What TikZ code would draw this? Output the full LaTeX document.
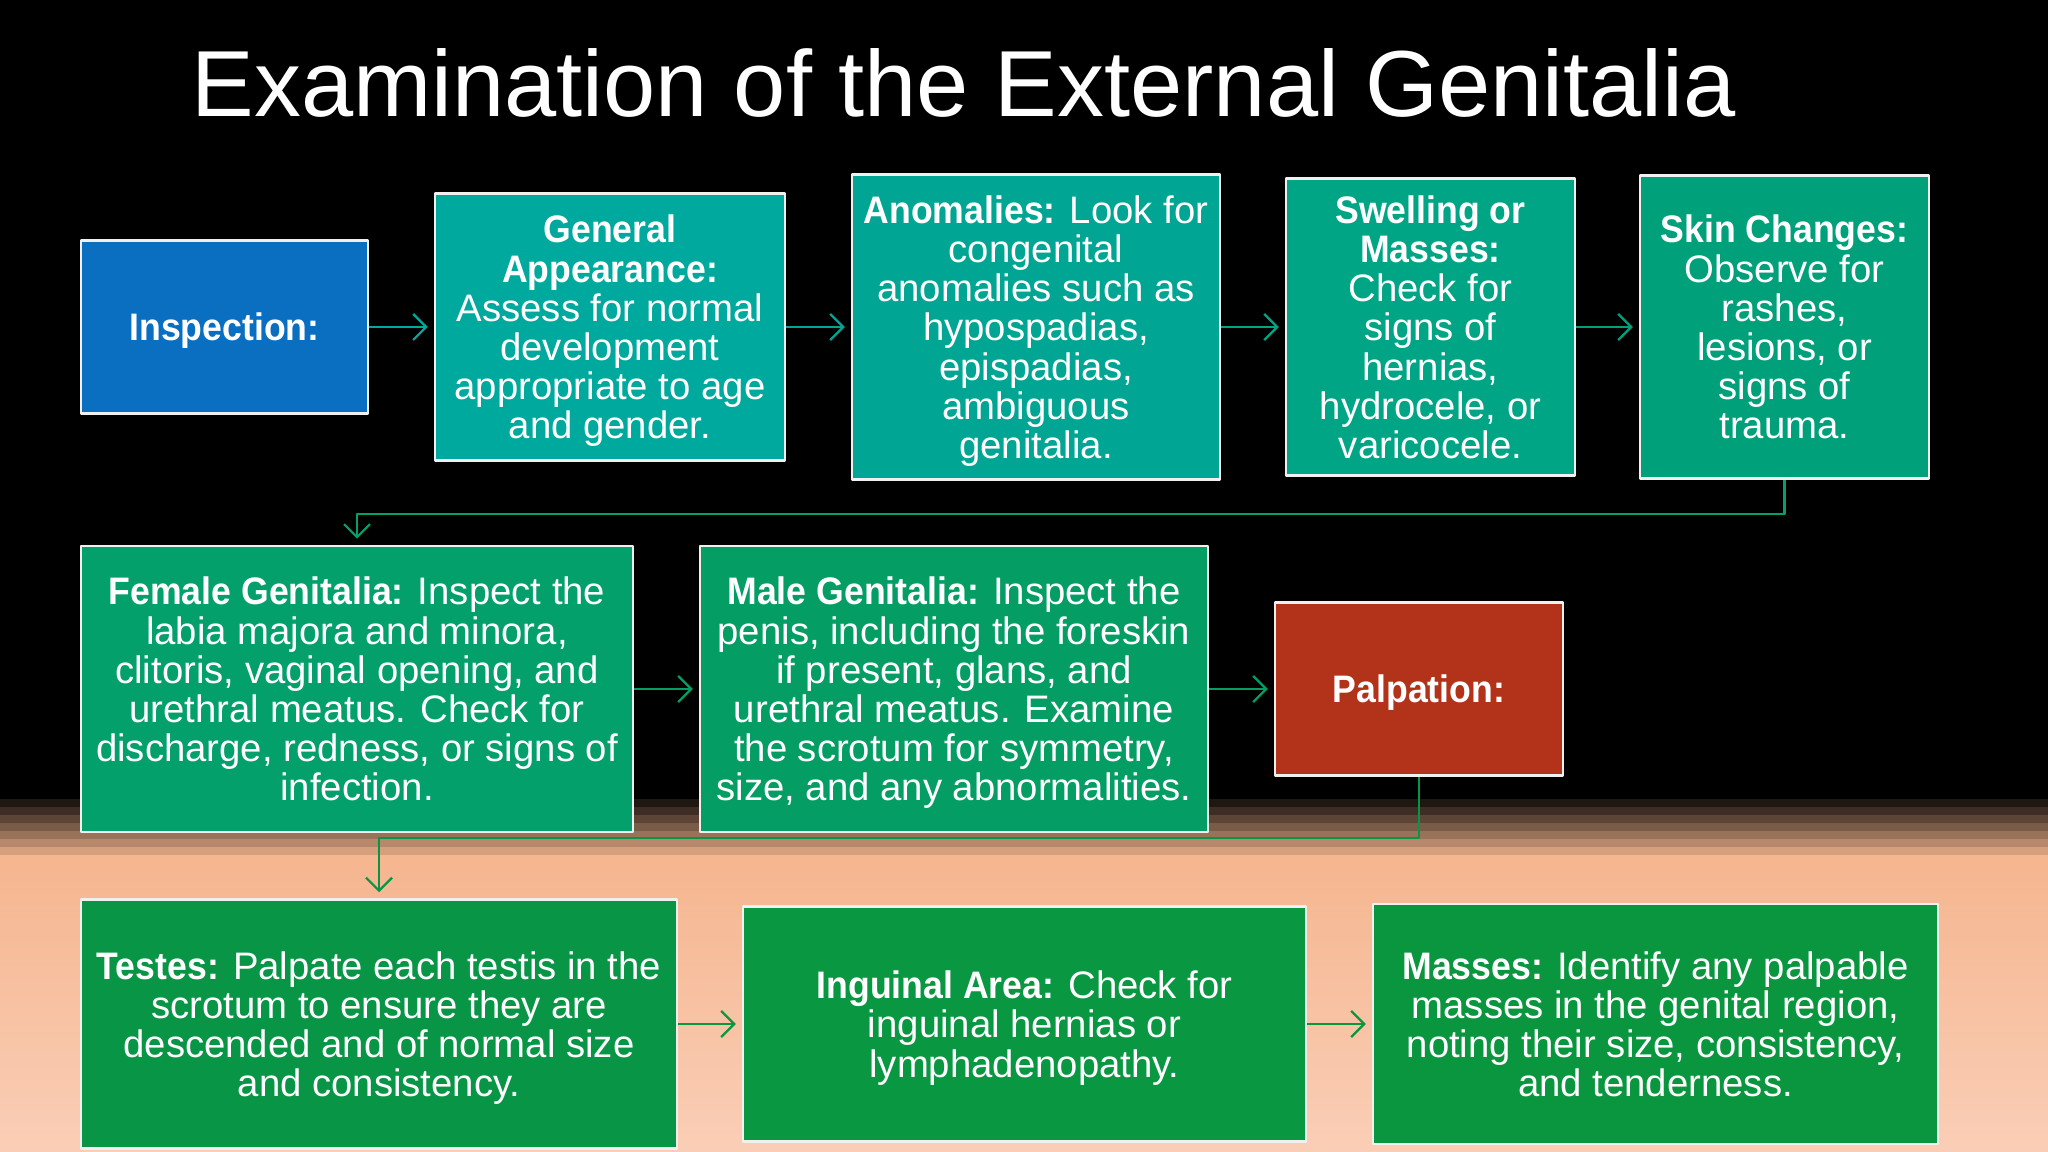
\documentclass[tikz,border=0pt]{standalone}
\usepackage{fontspec}
\setmainfont{Liberation Sans}[BoldFeatures={FakeStretch=0.93}]
\usetikzlibrary{arrows.meta,calc,positioning}
\definecolor{insp}{RGB}{10,111,192}
\definecolor{tealA}{RGB}{0,169,157}
\definecolor{tealB}{RGB}{0,166,147}
\definecolor{tealC}{RGB}{0,165,133}
\definecolor{tealD}{RGB}{0,161,122}
\definecolor{grnA}{RGB}{3,160,108}
\definecolor{grnB}{RGB}{4,158,100}
\definecolor{palp}{RGB}{179,50,26}
\definecolor{grnC}{RGB}{8,149,69}
\definecolor{grnD}{RGB}{9,151,66}
\definecolor{grnE}{RGB}{10,150,62}
\definecolor{peach}{RGB}{245,182,144}
\definecolor{peachlt}{RGB}{250,206,182}
\tikzset{
  every picture/.style={x=0.1mm, y=-0.1mm, line join=round,
    >={Straight Barb[length=1.3mm,width=2.6mm]}},
  % Kästen
  box/.style={draw=white!88!gray, line width=0.25mm, text=white, align=center,
    inner sep=0pt, text depth=0pt, font=\fontsize{10.9}{11.15}\selectfont},
  % Verbindungen
  flow/.style={->, line width=0.22mm, shorten >=0.6mm},
  title/.style={text=white, inner sep=0pt, anchor=base west,
    font=\fontsize{26.7}{30}\selectfont},
}

\begin{document}
\begin{tikzpicture}
  \useasboundingbox (0,0) rectangle (2048,1152);
  % Hintergrund: schwarz, Stufen, Pfirsich
  \fill[black] (0,0) rectangle (2048,1152);
  \foreach \i [evaluate=\i as \p using 12.5*\i] in {1,...,8}
    \fill[peach!\p!black] (0,791+8*\i) rectangle (2048,799+8*\i);
  \shade[top color=peach, bottom color=peachlt] (0,863) rectangle (2048,1152);
  % Titel
  \node[title] (ttl) at (191,117) {Examination of the External Genitalia};
  % erste Reihe
  \node[box, fill=insp, minimum width=28.7mm, minimum height=17.3mm] (insp) at (224.5,327)
    {\textbf{Inspection:}};
  \node[box, fill=tealA, minimum width=35mm, minimum height=26.7mm] (gen) at (610,327)
    {\textbf{General}\\\textbf{Appearance:}\\Assess for normal\\development\\appropriate to age\\and gender.};
  \node[box, fill=tealB, minimum width=36.8mm, minimum height=30.5mm] (anom) at (1036,327)
    {\textbf{Anomalies:} Look for\\congenital\\anomalies such as\\hypospadias,\\epispadias,\\ambiguous\\genitalia.};
  \node[box, fill=tealC, minimum width=28.9mm, minimum height=29.7mm] (swell) at (1430.5,327)
    {\textbf{Swelling or}\\\textbf{Masses:}\\Check for\\signs of\\hernias,\\hydrocele, or\\varicocele.};
  \node[box, fill=tealD, minimum width=28.9mm, minimum height=30.3mm] (skin) at (1784.5,327)
    {\textbf{Skin Changes:}\\Observe for\\rashes,\\lesions, or\\signs of\\trauma.};
  % zweite Reihe
  \node[box, fill=grnA, minimum width=55.2mm, minimum height=28.6mm] (fem) at (357,689)
    {\textbf{Female Genitalia:} Inspect the\\labia majora and minora,\\clitoris, vaginal opening, and\\urethral meatus. Check for\\discharge, redness, or signs of\\infection.};
  \node[box, fill=grnB, minimum width=50.8mm, minimum height=28.6mm] (male) at (954,689)
    {\textbf{Male Genitalia:} Inspect the\\penis, including the foreskin\\if present, glans, and\\urethral meatus. Examine\\the scrotum for symmetry,\\size, and any abnormalities.};
  \node[box, fill=palp, minimum width=28.8mm, minimum height=17.3mm] (palp) at (1419,689)
    {\textbf{Palpation:}};
  % dritte Reihe
  \node[box, fill=grnC, minimum width=59.6mm, minimum height=24.9mm] (test) at (379,1024)
    {\textbf{Testes:} Palpate each testis in the\\scrotum to ensure they are\\descended and of normal size\\and consistency.};
  \node[box, fill=grnD, minimum width=56.3mm, minimum height=23.5mm] (ing) at (1024.5,1024)
    {\textbf{Inguinal Area:} Check for\\inguinal hernias or\\lymphadenopathy.};
  \node[box, fill=grnE, minimum width=56.5mm, minimum height=24mm] (mass) at (1655.5,1024)
    {\textbf{Masses:} Identify any palpable\\masses in the genital region,\\noting their size, consistency,\\and tenderness.};
  % Pfeile
  \draw[flow, tealA] (insp) -- (gen);
  \draw[flow, tealB] (gen) -- (anom);
  \draw[flow, tealC] (anom) -- (swell);
  \draw[flow, tealD] (swell) -- (skin);
  \draw[flow, grnA] (skin.south) -- ++(0,34) -| (fem.north);
  \draw[flow, grnB] (fem) -- (male);
  \draw[flow, grnB] (male) -- (palp);
  \draw[flow, grnC] (palp.south) -- ++(0,61) -| (test.north);
  \draw[flow, grnD] (test) -- (ing);
  \draw[flow, grnE] (ing) -- (mass);
\end{tikzpicture}
\end{document}
